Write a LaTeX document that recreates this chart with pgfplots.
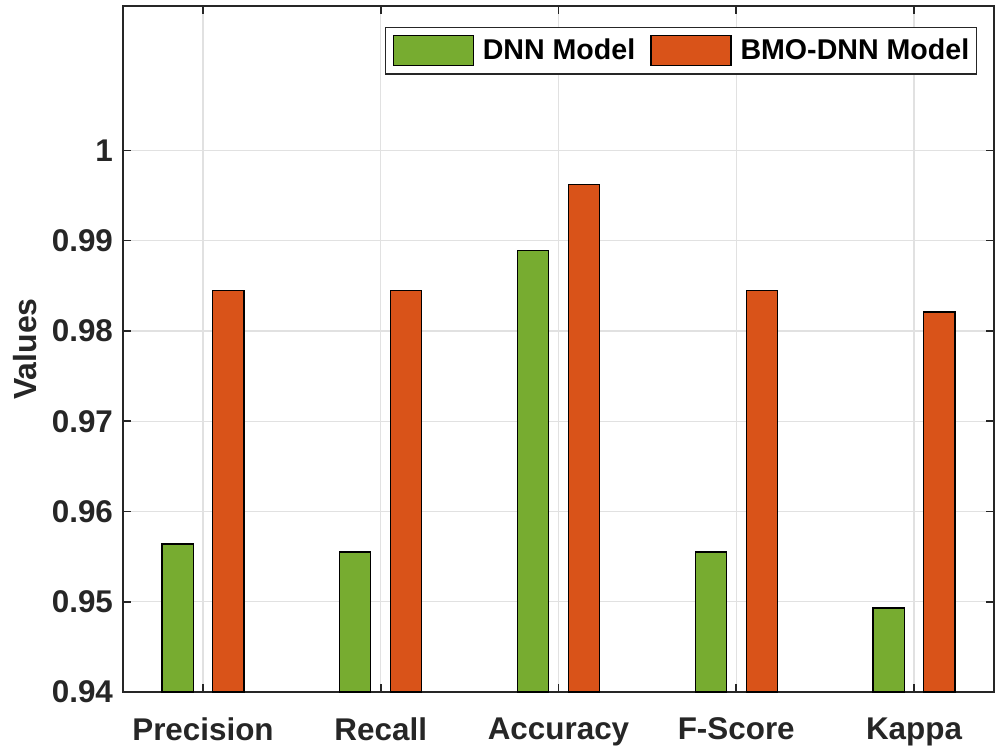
\documentclass[border=0pt]{standalone}
\usepackage{fontspec}
\setmainfont{Liberation Sans}
\usepackage{pgfplots}
\pgfplotsset{compat=1.18}
\definecolor{dnngreen}{RGB}{119,172,48}
\definecolor{bmoorange}{RGB}{217,83,25}
\definecolor{axgray}{RGB}{38,38,38}
\definecolor{gridgray}{RGB}{225,225,225}

\begin{document}
\begin{tikzpicture}
\path (0,0) rectangle (500pt,376pt);
\begin{axis}[
    at={(61.5pt,30pt)}, anchor=south west,
    scale only axis,
    width=435.5pt, height=343pt,
    xmin=0.55, xmax=5.45,
    ymin=0.94, ymax=1.016,
    xtick={1,2,3,4,5},
    xticklabels={Precision,Recall,Accuracy,F-Score,Kappa},
    ytick={0.94,0.95,0.96,0.97,0.98,0.99,1},
    yticklabel style={/pgf/number format/fixed, /pgf/number format/precision=2, xshift=-1.5pt},
    /pgf/number format/assume math mode=true,
    xticklabel style={yshift=-9.5pt},
    ticklabel style={font=\bfseries\fontsize{15.7}{18}\selectfont, text=axgray},
    ylabel={Values},
    ylabel style={font=\bfseries\fontsize{16}{18}\selectfont, text=axgray,
        at={(axis description cs:-0.1125,0.5)}, anchor=center},
    grid=major,
    major grid style={gridgray, line width=0.6pt},
    axis line style={axgray, line width=0.8pt},
    tick align=inside,
    major tick length=4pt,
    tick style={axgray, line width=0.8pt},
    legend columns=2,
    legend image code/.code={\draw[#1] (0pt,-7.5pt) rectangle (40pt,7.5pt);},
    legend style={at={(1,1)}, anchor=north east, xshift=-8.5pt, yshift=-10.5pt,
        draw=axgray, line width=0.7pt,
        font=\bfseries\fontsize{14.3}{16}\selectfont,
        inner xsep=3.5pt, inner ysep=3.75pt,
        nodes={inner sep=0pt},
        /tikz/every odd column/.append style={column sep=4.5pt},
        /tikz/every even column/.append style={column sep=7.5pt}},
]
\addplot[ybar, bar width=0.175, bar shift=-0.143, fill=dnngreen, draw=black, line width=0.6pt]
    coordinates {(1,0.9564) (2,0.9555) (3,0.9889) (4,0.9555) (5,0.9493)};
\addlegendentry{DNN Model}
\addplot[ybar, bar width=0.175, bar shift=0.143, fill=bmoorange, draw=black, line width=0.6pt]
    coordinates {(1,0.9845) (2,0.9845) (3,0.9962) (4,0.9845) (5,0.9821)};
\addlegendentry{BMO-DNN Model}
\end{axis}
\end{tikzpicture}
\end{document}
